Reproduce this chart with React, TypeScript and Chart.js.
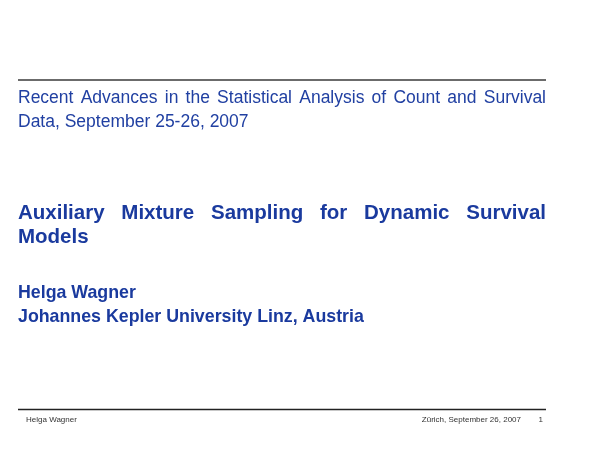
import React, { useEffect, useRef } from 'react';
import { Chart, registerables } from 'chart.js';

Chart.register(...registerables);

// slide text
const headerLines = [
    'Recent Advances in the Statistical Analysis of Count and Survival',
    'Data, September 25-26, 2007',
];
const titleLines = ['Auxiliary Mixture Sampling for Dynamic Survival', 'Models'];
const authorLines = ['Helga Wagner', 'Johannes Kepler University Linz, Austria'];
const footerLeft = 'Helga Wagner';
const footerRight = 'Zürich, September 26, 2007';
const pageNumber = '1';

const W = 600;
const H = 464;
const LEFT = 18;
const RIGHT = 546;
const BLUE = '#2140a2';
const FONT = '"Liberation Sans", Arial, sans-serif';

// draws a line of text, spreading words over the full width when justify is set
const drawLine = (
    ctx: CanvasRenderingContext2D,
    text: string,
    x: number,
    y: number,
    width: number,
    justify: boolean
) => {
    const words = text.split(' ');
    if (!justify || words.length < 2) {
        ctx.fillText(text, x, y);
        return;
    }
    const widths = words.map(w => ctx.measureText(w).width);
    const total = widths.reduce((a, b) => a + b, 0);
    const gap = (width - total) / (words.length - 1);
    let cx = x;
    words.forEach((w, i) => {
        ctx.fillText(w, cx, y);
        cx += widths[i] + gap;
    });
};

const SlideChart = () => {
    const canvasRef = useRef<HTMLCanvasElement>(null);
    const chartInstance = useRef<Chart | null>(null);

    useEffect(() => {
        document.body.style.margin = '0';
        if (!canvasRef.current) return;
        const ctx = canvasRef.current.getContext('2d');
        if (!ctx) return;

        if (chartInstance.current) {
            chartInstance.current.destroy();
        }

        const slidePlugin = {
            id: 'slidePlugin',
            beforeDraw: (chart: Chart) => {
                const c = chart.ctx;
                c.save();
                c.fillStyle = '#ffffff';
                c.fillRect(0, 0, chart.width, chart.height);
                c.restore();
            },
            afterDraw: (chart: Chart) => {
                const c = chart.ctx;
                const xs = chart.scales.x;
                const ys = chart.scales.y;
                const px = (v: number) => xs.getPixelForValue(v);
                const py = (v: number) => ys.getPixelForValue(v);
                const left = px(LEFT);
                const width = px(RIGHT) - left;

                c.save();
                c.textBaseline = 'alphabetic';
                c.textAlign = 'left';

                // top rule
                c.strokeStyle = '#3a3a3a';
                c.lineWidth = 1.4;
                c.beginPath();
                c.moveTo(left, py(80));
                c.lineTo(px(RIGHT), py(80));
                c.stroke();

                // conference line
                c.fillStyle = BLUE;
                c.font = `17.5px ${FONT}`;
                headerLines.forEach((line, i) => {
                    drawLine(c, line, left, py(103 + i * 24), width, i < headerLines.length - 1);
                });

                // title
                c.fillStyle = '#1a3a9e';
                c.font = `bold 20.5px ${FONT}`;
                titleLines.forEach((line, i) => {
                    drawLine(c, line, left, py(219 + i * 24), width, i < titleLines.length - 1);
                });

                // authors
                c.font = `bold 17.8px ${FONT}`;
                authorLines.forEach((line, i) => {
                    c.fillText(line, left, py(298 + i * 23.5));
                });

                // footer rule
                c.strokeStyle = '#222222';
                c.lineWidth = 1.6;
                c.beginPath();
                c.moveTo(left, py(409.5));
                c.lineTo(px(RIGHT), py(409.5));
                c.stroke();

                // footer texts
                c.fillStyle = '#333333';
                c.font = `8px ${FONT}`;
                c.fillText(footerLeft, px(26), py(422));
                c.textAlign = 'right';
                c.fillText(footerRight, px(521), py(422));
                c.fillText(pageNumber, px(543), py(422));
                c.restore();
            },
        };

        chartInstance.current = new Chart(ctx, {
            type: 'scatter',
            data: { datasets: [] },
            plugins: [slidePlugin],
            options: {
                responsive: false,
                maintainAspectRatio: false,
                animation: false,
                layout: { padding: 0 },
                scales: {
                    x: { type: 'linear', min: 0, max: W, display: false },
                    y: { type: 'linear', min: 0, max: H, reverse: true, display: false },
                },
                plugins: {
                    legend: { display: false },
                    tooltip: { enabled: false },
                },
            },
        });

        return () => {
            if (chartInstance.current) {
                chartInstance.current.destroy();
                chartInstance.current = null;
            }
        };
    }, []);

    return (
        <div style={{ width: W + 'px', height: H + 'px' }}>
            <canvas ref={canvasRef} width={W} height={H}></canvas>
        </div>
    );
};

export default function App() {
    return <SlideChart />;
}
